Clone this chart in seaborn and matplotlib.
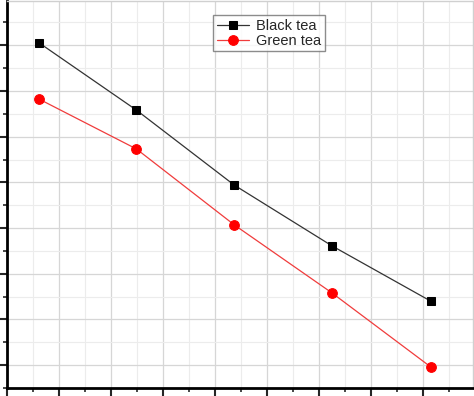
import matplotlib
matplotlib.use("Agg")
import matplotlib.pyplot as plt
from matplotlib.ticker import MultipleLocator
import seaborn as sns

# --- datos (unidades de marca mayor) ---
x_vals = [0.62, 2.49, 4.37, 6.25, 8.15]
black_tea = [7.55, 6.08, 4.44, 3.11, 1.90]
green_tea = [6.32, 5.23, 3.57, 2.08, 0.46]

sns.set_style("white")
plt.rcParams['font.family'] = ['Liberation Sans', 'DejaVu Sans']

fig = plt.figure(figsize=(4.74, 3.96), dpi=100)
ax = fig.add_axes([7 / 474, 8 / 396, 466 / 474, 387 / 396])

sns.lineplot(x=x_vals, y=black_tea, ax=ax, color='#333333', linewidth=0.9,
             marker='s', markersize=6, markerfacecolor='black',
             markeredgecolor='black', label='Black tea')
sns.lineplot(x=x_vals, y=green_tea, ax=ax, color='#f03c3c', linewidth=0.9,
             marker='o', markersize=7, markerfacecolor='red',
             markeredgecolor='red', label='Green tea')

ax.set_xlim(0, 466 / 52)
ax.set_ylim(0, 387 / 45.7)
ax.xaxis.set_major_locator(MultipleLocator(1))
ax.xaxis.set_minor_locator(MultipleLocator(0.5))
ax.set_yticks([0.5 + i for i in range(8)])
ax.set_yticks([i for i in range(9)], minor=True)

ax.grid(which='major', color='#d6d6d6', linewidth=0.9)
ax.grid(which='minor', color='#ececec', linewidth=0.8)
ax.set_axisbelow(True)

ax.tick_params(which='major', direction='out', length=6, width=1.5,
               labelleft=False, labelbottom=False, left=True, bottom=True)
ax.tick_params(which='minor', direction='out', length=3, width=1.2,
               left=True, bottom=True)

for lado in ['left', 'bottom']:
    ax.spines[lado].set_color('black')
    ax.spines[lado].set_linewidth(2)
for lado in ['top', 'right']:
    ax.spines[lado].set_color('#d0d0d0')
    ax.spines[lado].set_linewidth(1)

leg = ax.legend(loc='upper left', bbox_to_anchor=(199 / 466, 0.982),
                fontsize=10.5, frameon=True, fancybox=False,
                edgecolor='#707070', handlelength=2.2, borderpad=0.25,
                labelspacing=0.05, handletextpad=0.5)
leg.get_frame().set_linewidth(1)

fig.savefig('out.png', dpi=100)
